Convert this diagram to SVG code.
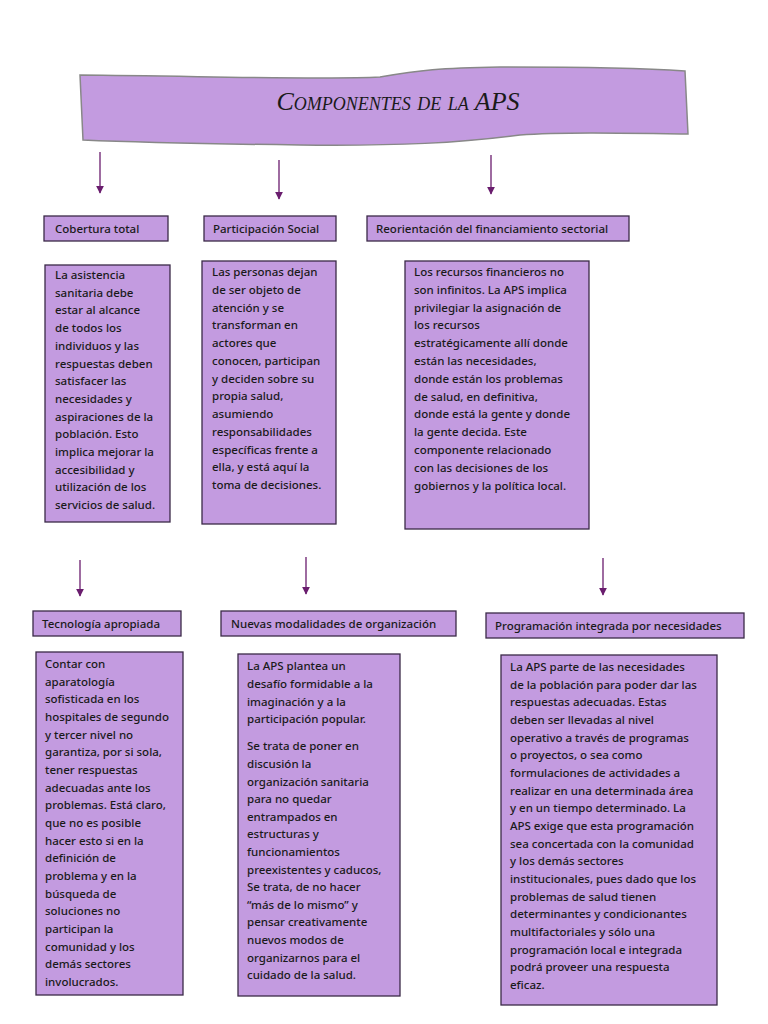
<svg xmlns="http://www.w3.org/2000/svg" width="768" height="1024" viewBox="0 0 768 1024">
<style>
.b{fill:#c39be0;stroke:#3b2a48;stroke-width:1.3}
.t{font-family:"Noto Sans","Liberation Sans",sans-serif;font-size:11.5px;font-weight:500;fill:#1a1a1a}
.c{stroke:#6a1d6e;stroke-width:1.3;fill:none;marker-end:url(#a)}
</style>
<defs><marker id="a" viewBox="0 0 10 10" refX="9" refY="5" markerWidth="6" markerHeight="6" orient="auto"><path d="M0,0L10,5L0,10z" fill="#6a1d6e"/></marker></defs>
<rect width="768" height="1024" fill="#fff"/>
<g id="title">
<path d="M80,75 C200,76 320,80 380,77 C420,70 440,68 500,67 C580,67 640,68 685,71 L688,134 C620,133 560,132 520,135 C460,143 400,146 300,145 C220,144 150,143 83,140 Z" fill="#c39be0" stroke="#888" stroke-width="1.5"/>
<text x="398" y="110" text-anchor="middle" font-family="Liberation Serif,serif" font-style="italic" font-variant="small-caps" font-size="26" fill="#1a1a1a">Componentes de la APS</text>
</g>
<g id="connectors">
<line class="c" x1="100" y1="152" x2="100" y2="193"/>
<line class="c" x1="279" y1="160" x2="279" y2="199"/>
<line class="c" x1="491" y1="155" x2="491" y2="194"/>
<line class="c" x1="80" y1="560" x2="80" y2="596"/>
<line class="c" x1="306" y1="557" x2="306" y2="594"/>
<line class="c" x1="603" y1="558" x2="603" y2="595"/>
</g>
<g id="h1"><rect class="b" x="44" y="216" width="124" height="25"/><text class="t" x="55" y="233">Cobertura total</text></g>
<g id="h2"><rect class="b" x="204" y="216" width="132" height="25"/><text class="t" x="213" y="233">Participación Social</text></g>
<g id="h3"><rect class="b" x="367" y="216" width="262" height="25"/><text class="t" x="376" y="233">Reorientación del financiamiento sectorial</text></g>
<g id="h4"><rect class="b" x="33" y="611" width="148" height="25"/><text class="t" x="42" y="628">Tecnología apropiada</text></g>
<g id="h5"><rect class="b" x="221" y="611" width="235" height="25"/><text class="t" x="231" y="628">Nuevas modalidades de organización</text></g>
<g id="h6"><rect class="b" x="486" y="613" width="258" height="25"/><text class="t" x="495" y="630">Programación integrada por necesidades</text></g>
<g id="d1"><rect class="b" x="45" y="265" width="125" height="257"/>
<text class="t" y="279"><tspan x="55">La asistencia</tspan><tspan x="55" dy="17.7">sanitaria debe</tspan><tspan x="55" dy="17.7">estar al alcance</tspan><tspan x="55" dy="17.7">de todos los</tspan><tspan x="55" dy="17.7">individuos y las</tspan><tspan x="55" dy="17.7">respuestas deben</tspan><tspan x="55" dy="17.7">satisfacer las</tspan><tspan x="55" dy="17.7">necesidades y</tspan><tspan x="55" dy="17.7">aspiraciones de la</tspan><tspan x="55" dy="17.7">población. Esto</tspan><tspan x="55" dy="17.7">implica mejorar la</tspan><tspan x="55" dy="17.7">accesibilidad y</tspan><tspan x="55" dy="17.7">utilización de los</tspan><tspan x="55" dy="17.7">servicios de salud.</tspan></text></g>
<g id="d2"><rect class="b" x="202" y="261" width="134" height="263"/>
<text class="t" y="276"><tspan x="212">Las personas dejan</tspan><tspan x="212" dy="17.75">de ser objeto de</tspan><tspan x="212" dy="17.75">atención y se</tspan><tspan x="212" dy="17.75">transforman en</tspan><tspan x="212" dy="17.75">actores que</tspan><tspan x="212" dy="17.75">conocen, participan</tspan><tspan x="212" dy="17.75">y deciden sobre su</tspan><tspan x="212" dy="17.75">propia salud,</tspan><tspan x="212" dy="17.75">asumiendo</tspan><tspan x="212" dy="17.75">responsabilidades</tspan><tspan x="212" dy="17.75">específicas frente a</tspan><tspan x="212" dy="17.75">ella, y está aquí la</tspan><tspan x="212" dy="17.75">toma de decisiones.</tspan></text></g>
<g id="d3"><rect class="b" x="405" y="261" width="184" height="268"/>
<text class="t" y="276"><tspan x="414">Los recursos financieros no</tspan><tspan x="414" dy="17.8">son infinitos. La APS implica</tspan><tspan x="414" dy="17.8">privilegiar la asignación de</tspan><tspan x="414" dy="17.8">los recursos</tspan><tspan x="414" dy="17.8">estratégicamente allí donde</tspan><tspan x="414" dy="17.8">están las necesidades,</tspan><tspan x="414" dy="17.8">donde están los problemas</tspan><tspan x="414" dy="17.8">de salud, en definitiva,</tspan><tspan x="414" dy="17.8">donde está la gente y donde</tspan><tspan x="414" dy="17.8">la gente decida. Este</tspan><tspan x="414" dy="17.8">componente relacionado</tspan><tspan x="414" dy="17.8">con las decisiones de los</tspan><tspan x="414" dy="17.8">gobiernos y la política local.</tspan></text></g>
<g id="d4"><rect class="b" x="36" y="652" width="147" height="343"/>
<text class="t" y="668"><tspan x="45">Contar con</tspan><tspan x="45" dy="17.67">aparatología</tspan><tspan x="45" dy="17.67">sofisticada en los</tspan><tspan x="45" dy="17.67">hospitales de segundo</tspan><tspan x="45" dy="17.67">y tercer nivel no</tspan><tspan x="45" dy="17.67">garantiza, por si sola,</tspan><tspan x="45" dy="17.67">tener respuestas</tspan><tspan x="45" dy="17.67">adecuadas ante los</tspan><tspan x="45" dy="17.67">problemas. Está claro,</tspan><tspan x="45" dy="17.67">que no es posible</tspan><tspan x="45" dy="17.67">hacer esto si en la</tspan><tspan x="45" dy="17.67">definición de</tspan><tspan x="45" dy="17.67">problema y en la</tspan><tspan x="45" dy="17.67">búsqueda de</tspan><tspan x="45" dy="17.67">soluciones no</tspan><tspan x="45" dy="17.67">participan la</tspan><tspan x="45" dy="17.67">comunidad y los</tspan><tspan x="45" dy="17.67">demás sectores</tspan><tspan x="45" dy="17.67">involucrados.</tspan></text></g>
<g id="d5"><rect class="b" x="238" y="654" width="162" height="342"/>
<text class="t" y="670"><tspan x="247">La APS plantea un</tspan><tspan x="247" dy="17.8">desafío formidable a la</tspan><tspan x="247" dy="17.8">imaginación y a la</tspan><tspan x="247" dy="17.8">participación popular.</tspan><tspan x="247" dy="27">Se trata de poner en</tspan><tspan x="247" dy="17.6">discusión la</tspan><tspan x="247" dy="17.6">organización sanitaria</tspan><tspan x="247" dy="17.6">para no quedar</tspan><tspan x="247" dy="17.6">entrampados en</tspan><tspan x="247" dy="17.6">estructuras y</tspan><tspan x="247" dy="17.6">funcionamientos</tspan><tspan x="247" dy="17.6">preexistentes y caducos,</tspan><tspan x="247" dy="17.6">Se trata, de no hacer</tspan><tspan x="247" dy="17.6">“más de lo mismo” y</tspan><tspan x="247" dy="17.6">pensar creativamente</tspan><tspan x="247" dy="17.6">nuevos modos de</tspan><tspan x="247" dy="17.6">organizarnos para el</tspan><tspan x="247" dy="17.6">cuidado de la salud.</tspan></text></g>
<g id="d6"><rect class="b" x="501" y="655" width="216" height="350"/>
<text class="t" y="671"><tspan x="510">La APS parte de las necesidades</tspan><tspan x="510" dy="17.67">de la población para poder dar las</tspan><tspan x="510" dy="17.67">respuestas adecuadas. Estas</tspan><tspan x="510" dy="17.67">deben ser llevadas al nivel</tspan><tspan x="510" dy="17.67">operativo a través de programas</tspan><tspan x="510" dy="17.67">o proyectos, o sea como</tspan><tspan x="510" dy="17.67">formulaciones de actividades a</tspan><tspan x="510" dy="17.67">realizar en una determinada área</tspan><tspan x="510" dy="17.67">y en un tiempo determinado. La</tspan><tspan x="510" dy="17.67">APS exige que esta programación</tspan><tspan x="510" dy="17.67">sea concertada con la comunidad</tspan><tspan x="510" dy="17.67">y los demás sectores</tspan><tspan x="510" dy="17.67">institucionales, pues dado que los</tspan><tspan x="510" dy="17.67">problemas de salud tienen</tspan><tspan x="510" dy="17.67">determinantes y condicionantes</tspan><tspan x="510" dy="17.67">multifactoriales y sólo una</tspan><tspan x="510" dy="17.67">programación local e integrada</tspan><tspan x="510" dy="17.67">podrá proveer una respuesta</tspan><tspan x="510" dy="17.67">eficaz.</tspan></text></g>
</svg>
